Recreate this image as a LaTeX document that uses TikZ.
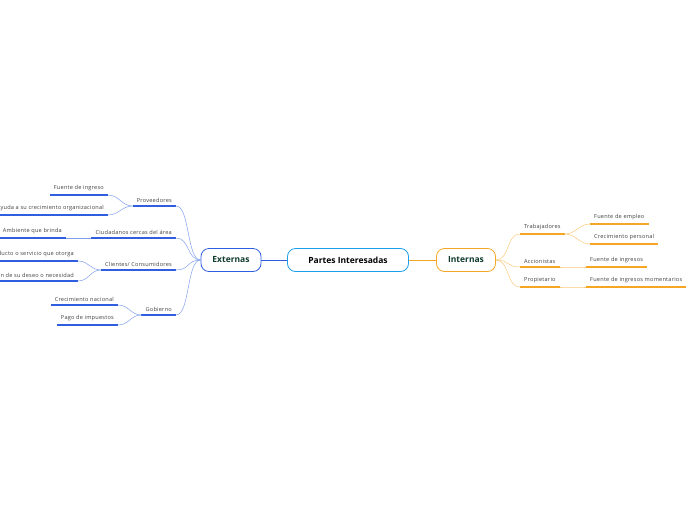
\documentclass[tikz,border=0pt]{standalone}
\usepackage{fontspec}
\setmainfont{Open Sans}
\definecolor{extblue}{HTML}{2F5FE0}
\definecolor{intorange}{HTML}{F5A623}
\definecolor{titlegreen}{HTML}{0E3B2E}
\begin{document}
\begin{tikzpicture}[x=1pt,y=-1pt,
    lbl/.style={font=\fontsize{5.6}{6.5}\selectfont\addfontfeatures{LetterSpace=4}, text=black!75, inner xsep=4pt, inner ysep=3.5pt,
        append after command={(\tikzlastnode.south west) edge[line width=1.2pt, draw=#1] (\tikzlastnode.south east)}},
    main/.style={draw=#1, line width=0.8pt, rounded corners=8pt, minimum height=23pt, font=\fontsize{8.5}{10}\selectfont\bfseries, text=titlegreen},
    lnk/.style={draw=#1, line width=0.5pt}]
    \useasboundingbox (0,0) rectangle (697,520);
	\node [main=extblue!60!cyan, minimum width=121pt, text=black] (root) at (348,260) {Partes Interesadas};
	\node [main=extblue, minimum width=60pt] (ext) at (231,260) {Externas};
	\node [main=intorange, minimum width=59pt] (int) at (466,260) {Internas};
	\draw [lnk=extblue] (root.west) -- (ext.east);
	\draw [lnk=intorange] (root.east) -- (int.west);

	% externas
	\node [lbl=extblue, anchor=south east] (prov) at (176,206) {Proveedores};
	\node [lbl=extblue, anchor=south east] (ciud) at (176,238) {Ciudadanos cercas del área};
	\node [lbl=extblue, anchor=south east] (clie) at (176,270) {Clientes/ Consumidores};
	\node [lbl=extblue, anchor=south east] (gob) at (176,315) {Gobierno};
	\foreach \n in {prov,ciud,clie,gob}
		\draw [lnk=extblue!60] (ext.west) .. controls +(-14,0) and +(14,0) .. (\n.south east);

	\node [lbl=extblue, anchor=south east] (fing) at (108,195) {Fuente de ingreso};
	\node [lbl=extblue, anchor=south east] (ayud) at (108,215) {Ayuda a su crecimiento organizacional};
	\node [lbl=extblue, anchor=south east] (amb) at (66,238) {Ambiente que brinda};
	\node [lbl=extblue, anchor=south east] (prod) at (78,261) {Producto o servicio que otorga};
	\node [lbl=extblue, anchor=south east] (dese) at (78,281) {Satisfacción de su deseo o necesidad};
	\node [lbl=extblue, anchor=south east] (crec) at (118,305) {Crecimiento nacional};
	\node [lbl=extblue, anchor=south east] (pago) at (118,325) {Pago de impuestos};
	\foreach \p/\c in {prov/fing,prov/ayud,clie/prod,clie/dese,gob/crec,gob/pago}
		\draw [lnk=extblue!60] (\p.south west) .. controls +(-11,0) and +(11,0) .. (\c.south east);
	\draw [lnk=extblue!60] (ciud.south west) -- (amb.south east);

	% internas
	\node [lbl=intorange, anchor=south west] (trab) at (520,234) {Trabajadores};
	\node [lbl=intorange, anchor=south west] (acci) at (520,267) {Accionistas};
	\node [lbl=intorange, anchor=south west] (prop) at (520,287) {Propietario};
	\foreach \n in {trab,acci,prop}
		\draw [lnk=intorange!60] (int.east) .. controls +(14,0) and +(-14,0) .. (\n.south west);

	\node [lbl=intorange, anchor=south west] (empl) at (590,224) {Fuente de empleo};
	\node [lbl=intorange, anchor=south west] (pers) at (590,244) {Crecimiento personal};
	\node [lbl=intorange, anchor=south west] (ingr) at (586,267) {Fuente de ingresos};
	\node [lbl=intorange, anchor=south west] (mome) at (586,287) {Fuente de ingresos momentarios};
	\foreach \p/\c in {trab/empl,trab/pers,acci/ingr,prop/mome}
		\draw [lnk=intorange!60] (\p.south east) .. controls +(11,0) and +(-11,0) .. (\c.south west);
\end{tikzpicture}
\end{document}
